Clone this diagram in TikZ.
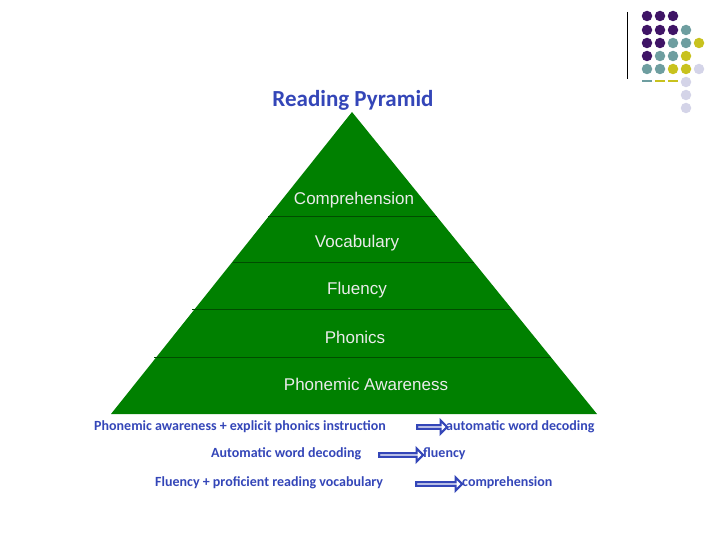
\documentclass[tikz,border=0pt]{standalone}
\usepackage{fontspec}
\setmainfont{Carlito}
\newfontfamily\arialf{Liberation Sans}
\definecolor{pur}{HTML}{3F1466}
\definecolor{teal}{HTML}{6E9EA0}
\definecolor{yel}{HTML}{C8C21E}
\definecolor{lav}{HTML}{D4D4E8}
\definecolor{tblue}{HTML}{3446B8}
\definecolor{pgreen}{HTML}{008000}
\begin{document}
\begin{tikzpicture}[x=1pt,y=-1pt,
  dot/.style={circle,fill=#1,inner sep=0pt,minimum size=10.5pt},
  lvl/.style={font=\arialf\fontsize{17}{17}\selectfont,text=white!92!black},
  btxt/.style={font=\bfseries\fontsize{14}{14}\selectfont,text=tblue,inner sep=0pt},
  barrow/.style={draw=tblue,line width=2.2pt,fill=white,single arrow,single arrow head extend=3pt,minimum height=#1,minimum width=13pt,inner sep=0pt}]
\usetikzlibrary{shapes.arrows}
\useasboundingbox (0,0) rectangle (720,540);
% dots
\draw[black,line width=0.8pt] (627,12) -- (627,79);
\foreach \c/\x/\y in {pur/647/16,pur/660/16,pur/673/16,
 pur/647/30,pur/660/30,pur/673/30,teal/686/30,
 pur/647/43,pur/660/43,teal/673/43,teal/686/43,yel/699/43,
 pur/647/56,teal/660/56,teal/673/56,yel/686/56,
 teal/647/69,teal/660/69,yel/673/69,yel/686/69,lav/699/69,
 lav/686/82,lav/686/95,lav/686/108}
  \node[dot=\c] at (\x,\y) {};
\fill[white] (640,79) rectangle (680,90);
\fill[teal] (642,80) rectangle (652,82);
\fill[yel] (655,80) rectangle (665,82);
\fill[yel] (668,80) rectangle (678,82);
% title
\node[font=\bfseries\fontsize{23}{23}\selectfont,text=tblue] (title) at (353,100) {Reading Pyramid};
% pyramid
\fill[pgreen] (352,112) -- (597,414) -- (111,414) -- cycle;
\foreach \y/\xl/\xr in {216/268/437,262/233/474,309/192/512,357/154/551}
  \draw[black!70!green,line width=0.8pt] (\xl,\y) -- (\xr,\y);
\node[lvl] (l1) at (354,200) {Comprehension};
\node[lvl] (l2) at (357,243) {Vocabulary};
\node[lvl] (l3) at (357,290) {Fluency};
\node[lvl] (l4) at (355,337) {Phonics};
\node[lvl] (l5) at (366,384) {Phonemic Awareness};
% bottom
\node[btxt,anchor=west] (a1) at (94,427) {Phonemic awareness + explicit phonics instruction};
\node[barrow=30pt,anchor=west] (ar1) at (416,427) {};
\node[btxt,anchor=west] (b1) at (446,427) {automatic word decoding};
\node[btxt,anchor=west] (a2) at (211,454) {Automatic word decoding};
\node[barrow=44pt,anchor=west] (ar2) at (378,455) {};
\node[btxt,anchor=west] (b2) at (423,454) {fluency};
\node[btxt,anchor=west] (a3) at (155,483) {Fluency + proficient reading vocabulary};
\node[barrow=46pt,anchor=west] (ar3) at (415,484) {};
\node[btxt,anchor=west] (b3) at (462,483) {comprehension};
\end{tikzpicture}
\end{document}
